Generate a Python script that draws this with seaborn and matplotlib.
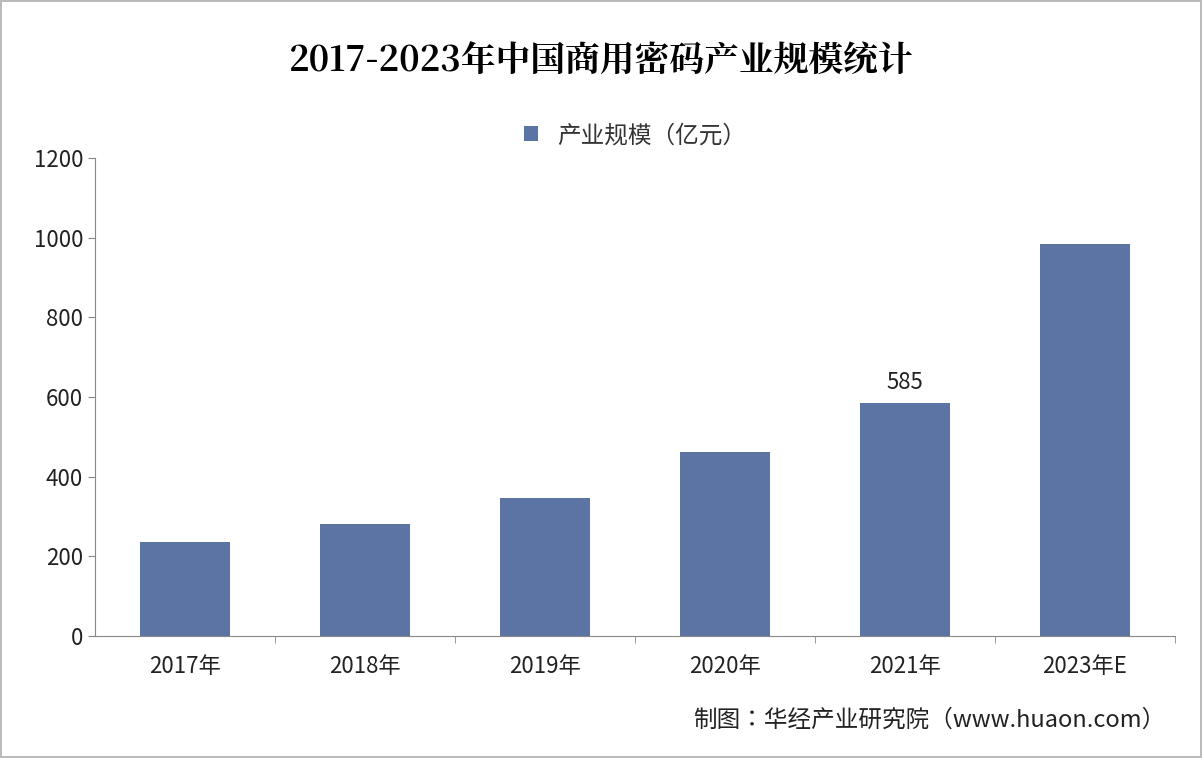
import matplotlib
matplotlib.use("Agg")
import matplotlib.pyplot as plt
from matplotlib import font_manager as fm
import seaborn as sns
import pandas as pd

years = ["2017年", "2018年", "2019年", "2020年", "2021年", "2023年E"]
values = [236, 281, 347, 463, 585, 985]
series_name = "产业规模（亿元）"

names = sorted({f.name for f in fm.fontManager.ttflist if "CJK" in f.name})
def pick(kind):
    c = [n for n in names if kind in n]
    sc = [n for n in c if "SC" in n]
    return (sc or c or names or ["DejaVu Sans"])[0]
sans = pick("Sans")
serif = pick("Serif")
plt.rcParams["font.family"] = "sans-serif"
plt.rcParams["font.sans-serif"] = [sans, "DejaVu Sans"]
df = pd.DataFrame({"year": years, "value": values, "s": series_name})

fig = plt.figure(figsize=(12.02, 7.58), dpi=100)
fig.patch.set_edgecolor("#bbbbbb"); fig.patch.set_linewidth(1.5)
ax = fig.add_axes([95/1202, 1-636/758, 1080/1202, 478/758])
sns.barplot(data=df, x="year", y="value", hue="s", palette=["#5b74a3"], width=0.5, ax=ax, saturation=1)
ax.set_ylim(0, 1200)
ax.set_yticks(range(0, 1201, 200))
ax.set_xlabel(""); ax.set_ylabel("")
for s in ["top", "right"]:
    ax.spines[s].set_visible(False)
ax.spines["left"].set_color("#888888"); ax.spines["bottom"].set_color("#888888")
ax.tick_params(axis="y", labelsize=16, colors="#222222", length=5, color="#888888")
ax.tick_params(axis="x", labelsize=16, colors="#222222", length=0, pad=14)
ax.set_xticks([i + 0.5 for i in range(len(years))], minor=True)
ax.tick_params(axis="x", which="minor", length=5, color="#888888")
ax.text(4, values[4] + 22, str(values[4]), ha="center", va="bottom", fontsize=16, color="#222222")
ax.legend(loc="upper center", bbox_to_anchor=(0.5, 1.115), frameon=False, fontsize=17,
          handlelength=0.6, handleheight=0.6, labelcolor="#333333")
fig.text(0.5, 1-62/758, "2017-2023年中国商用密码产业规模统计", ha="center", va="center",
         fontsize=25, fontweight="bold", fontfamily=serif)
fig.text(1165/1202, 1-720/758, "制图：华经产业研究院（www.huaon.com）", ha="right", va="center", fontsize=17, color="#222222")
fig.savefig("out.png", dpi=100)
